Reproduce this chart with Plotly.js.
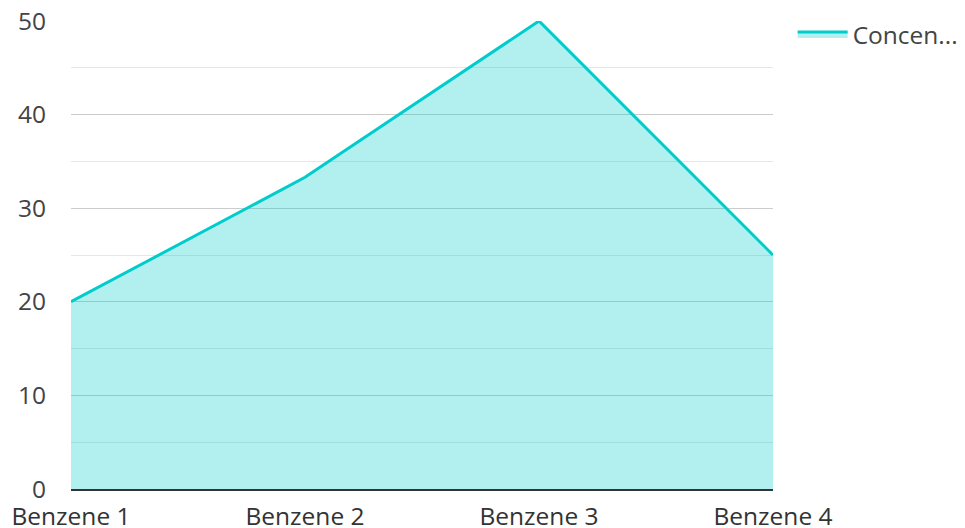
<!DOCTYPE html>
<html><head><meta charset="utf-8">
<script src="https://cdn.plot.ly/plotly-3.0.1.min.js"></script>
<style>html,body{margin:0;padding:0;background:#fff}</style>
</head><body>
<div id="chart" style="width:965px;height:528px"></div>
<script>
const categories = ["Benzene 1", "Benzene 2", "Benzene 3", "Benzene 4"];
const concentration = [20, 33.3, 50, 25];
const seriesName = "Concen...";

const trace = {
  x: categories,
  y: concentration,
  type: "scatter",
  mode: "lines",
  name: seriesName,
  fill: "tozeroy",
  fillcolor: "rgba(0,204,204,0.3)",
  line: {color: "#00CCCC", width: 3},
  hoverinfo: "x+y"
};

const layout = {
  width: 965, height: 528,
  margin: {l: 71, r: 192, t: 21, b: 39, autoexpand: false},
  paper_bgcolor: "#fff", plot_bgcolor: "#fff",
  font: {family: "Open Sans, Noto Sans, sans-serif", size: 24.5, color: "#444"},
  showlegend: true,
  legend: {x: 1.028, y: 1.02, xanchor: "left", yanchor: "top", itemwidth: 50,
           font: {size: 24.5, color: "#444"}, bgcolor: "rgba(0,0,0,0)"},
  xaxis: {
    type: "category", range: [0, 3], showgrid: false, zeroline: false,
    showline: true, linecolor: "#333", linewidth: 2,
    ticks: "", ticklabelstandoff: 5, tickfont: {size: 24.5, color: "#333"}, automargin: false
  },
  yaxis: {
    range: [0, 50], dtick: 10, tick0: 0, showgrid: true, gridcolor: "#cccccc", gridwidth: 1,
    minor: {dtick: 5, showgrid: true, gridcolor: "#e6e6e6", gridwidth: 1},
    zeroline: false, showline: false, ticks: "", ticklabelstandoff: 24,
    tickfont: {size: 24.5, color: "#444"}, automargin: false
  }
};

Plotly.newPlot("chart", [trace], layout, {displayModeBar: false, responsive: false});
</script>
</body></html>
